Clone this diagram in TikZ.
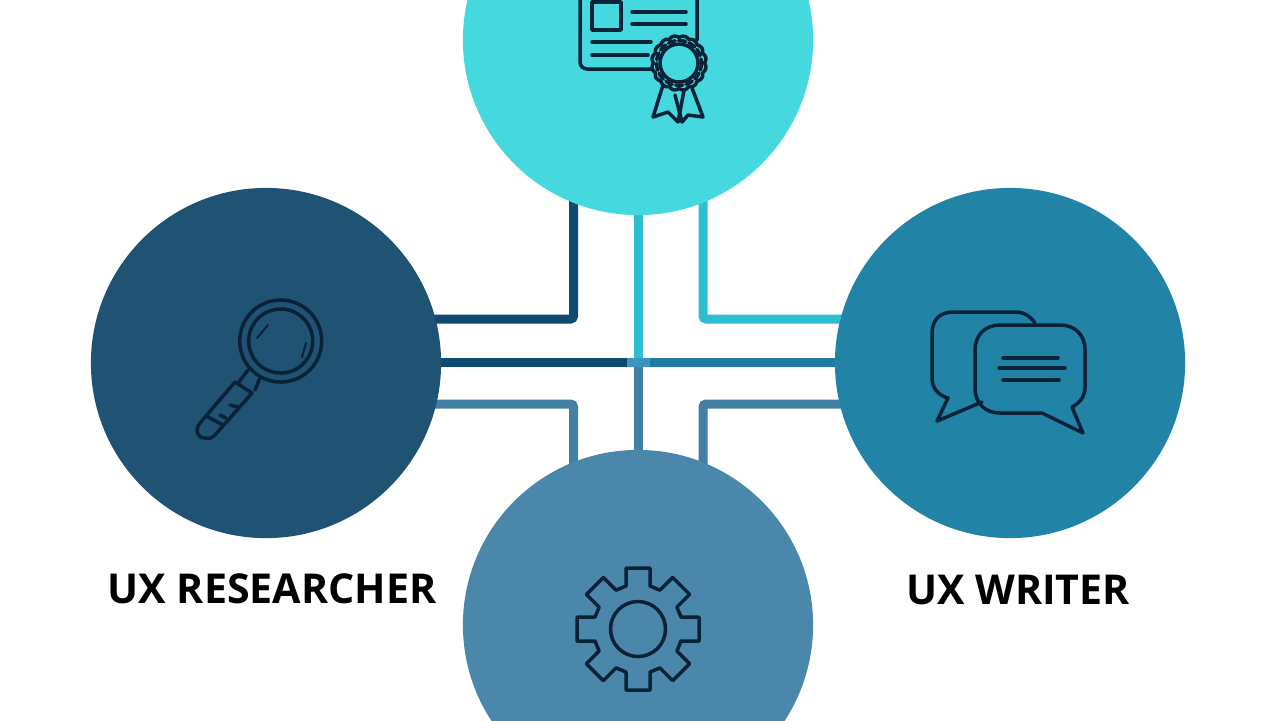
\documentclass[tikz,border=0pt]{standalone}
\usepackage{fontspec}
\setmainfont{Open Sans}
\usetikzlibrary{backgrounds}
\definecolor{topcol}{HTML}{45D8DE}
\definecolor{leftcol}{HTML}{1F5273}
\definecolor{rightcol}{HTML}{2183A6}
\definecolor{botcol}{HTML}{4A87AB}
\definecolor{linkcyan}{HTML}{2CBFD0}
\definecolor{linkdark}{HTML}{0F4A70}
\definecolor{linkmid}{HTML}{1F7A9F}
\definecolor{linksteel}{HTML}{437FA3}
\definecolor{linkhub}{HTML}{3A95C0}
\definecolor{iconcol}{HTML}{0A2238}

\begin{document}
\begin{tikzpicture}[
    x=0.01cm, y=-0.01cm,
    circlenode/.style={circle, minimum size=3.5cm, inner sep=0pt},
    link/.style={line width=0.09cm, rounded corners=0.03cm},
    icon/.style={draw=iconcol, line width=0.035cm, line join=round, line cap=round},
    title/.style={font=\fontsize{11.7}{14}\selectfont\bfseries, text=black}
    ]
    \useasboundingbox (0,0) rectangle (1280,720);
    \clip (0,0) rectangle (1280,720);

    \node [circlenode, fill=topcol] (a) at (638,40) {};
    \node [circlenode, fill=leftcol] (b) at (266,363) {};
    \node [circlenode, fill=rightcol] (c) at (1010,363) {};
    \node [circlenode, fill=botcol] (d) at (638,625) {};

    \coordinate (h) at (638,362);
    \coordinate (hl) at (627,362);
    \coordinate (hr) at (650,362);
    \coordinate (c1) at (573.5,319);
    \coordinate (c2) at (703,319);
    \coordinate (c3) at (573.5,404);
    \coordinate (c4) at (703,404);

    \begin{scope}[on background layer]
    \draw[link,linksteel] (d.center) -- (h);
    \draw[link,linkcyan] (a.center) -- (h);
    \draw[link,linkdark] (b |- h) -- (hl);
    \draw[link,linkmid] (c |- h) -- (hr);
    \draw[link,linkhub] (hl) -- (hr);
    \draw[link,linkdark] (b |- c1) -- (c1) -- (a -| c1);
    \draw[link,linkcyan] (c |- c2) -- (c2) -- (a -| c2);
    \draw[link,linksteel] (b |- c3) -- (c3) -- (d -| c3);
    \draw[link,linksteel] (c |- c4) -- (c4) -- (d -| c4);
    \end{scope}

    \node [title] (t1) at (272,589) {UX RESEARCHER};
    \node [title] (t2) at (1018,590) {UX WRITER};

    % certificate
    \draw[icon] (697,40) -- (697,-5) -- (580,-5) [rounded corners=0.07cm] -- (580,69) [sharp corners] -- (652,69);
    \draw[icon] (592,2) rectangle (621,30);
    \draw[icon] (632,12) -- (686,12);
    \draw[icon] (632,24) -- (686,24);
    \draw[icon] (592,42) -- (651,42);
    \draw[icon] (592,55) -- (648,55);
    \draw[icon] (663,85) -- (653,117) -- (668,112) -- (678,122) -- (684,90);
    \draw[icon] (692,88) -- (703,117) -- (688,115) -- (682,122) -- (675,95);
    \begin{scope}[shift={(679,63)}]
    \draw[icon,fill=topcol] plot[domain=0:360,samples=181,smooth] (\x:{25.5+1.8*abs(sin(8*\x))}) -- cycle;
    \draw[icon,dash pattern=on 2pt off 1pt] (0,0) circle [radius=22.5];
    \draw[icon] (0,0) circle [radius=19];
    \end{scope}

    % magnifier
    \draw[icon] (280.7,341) circle [radius=41];
    \draw[icon] (280.7,341) circle [radius=32];
    \draw[icon,line width=0.02cm] (268,325) -- (257,338);
    \draw[icon,line width=0.02cm] (306,343) -- (302,357);
    \draw[icon] (248,370) -- (238,383);
    \draw[icon] (260,378) -- (255,390);
    \draw[icon] (235,382) -- (200,423) .. controls (194,431) and (198,438) .. (205,438) .. controls (209,439) and (212,438) .. (215,435) -- (252,393) -- cycle;
    \draw[icon] (208,417) -- (223,425);
    \draw[icon] (230,405) -- (238,407);
    \draw[icon] (220,415) -- (226,418);

    % chat bubbles
    \draw[icon] (1035,323) .. controls (1030,316) and (1024,312) .. (1015,312) -- (953,312) .. controls (940,312) and (932,320) .. (932,333) -- (932,378) .. controls (932,388) and (938,395) .. (948,398) -- (937,421) -- (982,402);
    \draw[icon] (1072,407) .. controls (1080,403) and (1085,396) .. (1085,387) -- (1085,350) .. controls (1085,335) and (1075,325) .. (1060,325) -- (1000,325) .. controls (985,325) and (975,335) .. (975,350) -- (975,388) .. controls (975,403) and (985,413) .. (1000,413) -- (1042,413) -- (1083,433) -- cycle;
    \draw[icon] (1003,358) -- (1058,358);
    \draw[icon] (999,368) -- (1065,368);
    \draw[icon] (1003,380) -- (1059,380);

    % gear
    \begin{scope}[shift={(638,629)}]
    \draw[icon] (0,0) circle [radius=27.5];
    \draw[icon] ([rotate=0]43,-12)
      \foreach \a in {0,45,...,315} {
        -- ([rotate=-\a]43,-12) -- ([rotate=-\a]61,-12) -- ([rotate=-\a]61,12) -- ([rotate=-\a]43,12)
      } -- cycle;
    \end{scope}
\end{tikzpicture}
\end{document}
